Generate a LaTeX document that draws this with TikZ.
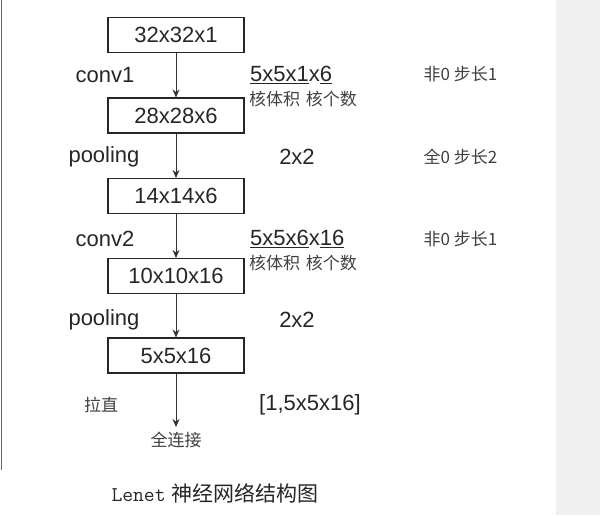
\documentclass[tikz,border=0pt]{standalone}
\usepackage{fontspec}
\setmainfont{Liberation Sans}
\newfontfamily\cjk{Noto Sans CJK SC}
\usetikzlibrary{arrows.meta,positioning}
\begin{document}
\begin{tikzpicture}[x=1pt,y=-1pt,
  lay/.style={draw=black!85,line width=1.2pt,minimum width=136pt,minimum height=35pt,inner sep=0pt,font=\fontsize{22}{24}\selectfont,text=black!85},
  lbl/.style={font=\fontsize{22}{24}\selectfont,text=black!85},
  small/.style={font=\cjk\fontsize{17}{19}\selectfont,text=black!75},
  arr/.style={-{Stealth[length=8pt,width=7pt]},line width=0.9pt,black!80}]
\useasboundingbox (0,0) rectangle (600,515);
\fill[black!6] (556,0) rectangle (600,515);
\draw[black!60,line width=0.8pt] (1,0) -- (1,470);
\node[lay] (b1) at (176,35) {32x32x1};
\node[lay] (b2) at (176,115.5) {28x28x6};
\node[lay] (b3) at (176,196) {14x14x6};
\node[lay] (b4) at (176,276) {10x10x16};
\node[lay] (b5) at (176,355.5) {5x5x16};
\coordinate (end) at (176,427);
\draw[arr] (b1) -- (b2);
\draw[arr] (b2) -- (b3);
\draw[arr] (b3) -- (b4);
\draw[arr] (b4) -- (b5);
\draw[arr] (b5) -- (end);
\node[lbl] (c1) at (105,75) {conv1};
\node[lbl] (p1) at (104,157) {pooling};
\node[lbl] (c2) at (105,239) {conv2};
\node[lbl] (p2) at (104,320) {pooling};
\node[lbl,anchor=west,inner sep=1pt] (k1) at (249,75) {\underline{5x5x1}x\underline{6}};
\node[small,anchor=west,inner sep=1pt] (n1) at (248,99) {核体积\,\,核个数};
\node[lbl] (s1) at (297,157) {2x2};
\node[lbl,anchor=west,inner sep=1pt] (k2) at (249,239) {\underline{5x5x6}x\underline{16}};
\node[small,anchor=west,inner sep=1pt] (n2) at (248,263) {核体积\,\,核个数};
\node[lbl] (s2) at (297,320) {2x2};
\node[small,anchor=west] (r1) at (420,74) {非0\ 步长1};
\node[small,anchor=west] (r2) at (420,157) {全0\ 步长2};
\node[small,anchor=west] (r3) at (420,239) {非0\ 步长1};
\node[small] (la) at (101,405) {拉直};
\node[lbl] (fl) at (310,405) {[1,5x5x16]};
\node[small] (fc) at (176,440) {全连接};
\node[font=\fontsize{21}{23}\selectfont,text=black!85] (cap) at (215,493) {{\ttfamily Lenet} {\cjk 神经网络结构图}};
\end{tikzpicture}
\end{document}
